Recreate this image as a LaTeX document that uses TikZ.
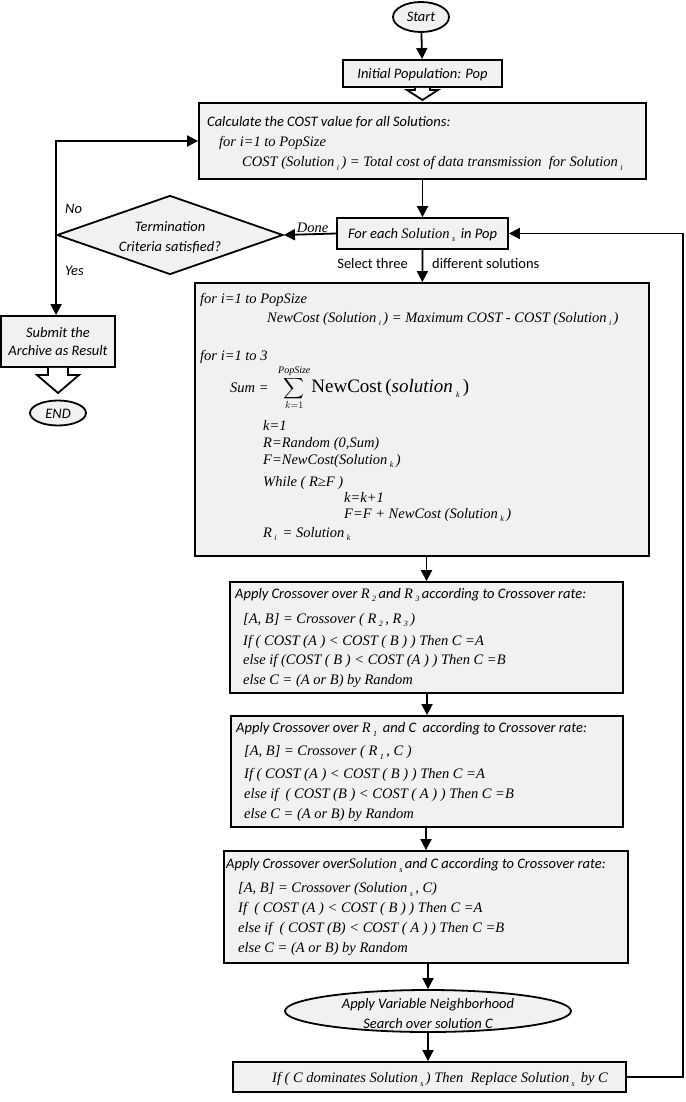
\documentclass[tikz,border=0pt]{standalone}
\usepackage{fontspec}
\setmainfont{Liberation Serif}
\newfontfamily\cfont{Carlito}
\usetikzlibrary{arrows.meta,shapes.geometric}
\definecolor{boxfill}{HTML}{F1F1F1}
\newcommand\myss[1]{\,\raisebox{-0.6ex}{\fontsize{8}{8}\selectfont\itshape #1}\,}
\newcommand\bigsig{\mathop{\vcenter{\hbox{\scalebox{1.45}{$\displaystyle\sum$}}}}\limits}
\tikzset{
  box/.style={draw, line width=1.8pt, fill=boxfill, inner sep=0pt, rectangle},
  oval/.style={draw, line width=1.8pt, fill=boxfill, inner sep=0pt, ellipse},
  sv/.style={font=\fontsize{14.5}{20}\selectfont\itshape, inner sep=0pt, anchor=base west},
  sn/.style={font=\cfont\fontsize{14.5}{20}\selectfont\itshape, inner sep=0pt, anchor=base west},
  snc/.style={font=\cfont\fontsize{14.5}{20}\selectfont\itshape, inner sep=0pt, anchor=base},
  arr/.style={line width=1.8pt, -{Triangle[length=11pt,width=11pt]}},
  hollow/.style={draw, line width=1.8pt, fill=white, line join=miter},
}
\begin{document}
\begin{tikzpicture}[x=1pt,y=-1pt]
\useasboundingbox (0,0) rectangle (685,1102);
% shapes
\node[oval, minimum width=56pt, minimum height=30pt] (start) at (421,17) {};
\node[snc] at (421,22) {Start};
\node[box, minimum width=159pt, minimum height=27pt] (init) at (422.5,73.5) {};
\node[snc] at (422.5,79) {Initial Population: Pop};
\node[box, minimum width=447pt, minimum height=76pt] (calc) at (422.5,141) {};
\node[box, minimum width=171pt, minimum height=31pt] (foreach) at (422.5,233.5) {};
\node[draw, line width=1.8pt, fill=boxfill, diamond, inner sep=0pt, minimum width=226pt, minimum height=79pt] (dia) at (170,235) {};
\node[snc] at (170,231) {Termination};
\node[snc] at (170,251) {Criteria satisfied?};
\node[box, minimum width=114pt, minimum height=51pt] (submit) at (58,341.5) {};
\node[snc] at (58,337) {Submit the};
\node[snc] at (58,355) {Archive as Result};
\node[oval, minimum width=56pt, minimum height=25pt] (end) at (58,413) {};
\node[snc] at (58,418) {END};
\node[box, minimum width=454pt, minimum height=273pt] (big) at (422,419.5) {};
\node[box, minimum width=393pt, minimum height=111pt] (box1) at (426.5,637.5) {};
\node[box, minimum width=392pt, minimum height=111pt] (box2) at (427,771.5) {};
\node[box, minimum width=404pt, minimum height=112pt] (box3) at (426,907) {};
\node[oval, minimum width=286pt, minimum height=42pt] (vns) at (428,1011) {};
\node[snc] at (428,1008) {Apply Variable Neighborhood};
\node[snc] at (428,1028) {Search over solution C};
\node[box, minimum width=393pt, minimum height=30pt] (last) at (429.5,1077) {};
\node[sv, anchor=base] at (440,1082) {If ( C dominates Solution\myss{s}) Then~ Replace Solution\myss{s} by C};

% calc box text
\node[sn] at (207,127) {Calculate the COST value for all Solutions:};
\node[sv] at (219,147) {for i=1 to PopSize};
\node[sv] at (242,167) {COST (Solution\myss{i}) = Total cost of data transmission~ for Solution\myss{i}};

% for each text
\node[snc] at (422.5,238) {For each {\normalfont\rmfamily\itshape Solution\myss{s}} in Pop};

% big box text
\node[sv] at (200,303) {for i=1 to PopSize};
\node[sv] at (267,322) {NewCost (Solution\myss{i}) = Maximum COST - COST (Solution\myss{i})};
\node[sv] at (200,360) {for i=1 to 3};
\node[sv] at (230,392) {Sum =};
\node[inner sep=0pt, anchor=base west, font=\fontsize{14.4}{20}\selectfont] at (278,392) {$\displaystyle\bigsig_{k=1}^{\mathit{PopSize}}$\hspace{1pt}{\fontsize{19}{20}\selectfont NewCost\,(\textit{solution}\myss{k})}};
\node[sv] at (263,430) {k=1};
\node[sv] at (263,447) {R=Random (0,Sum)};
\node[sv] at (263,464) {F=NewCost(Solution\myss{k})};
\node[sv] at (263,486) {While ( R≥F )};
\node[sv] at (344,502) {k=k+1};
\node[sv] at (344,518) {F=F + NewCost (Solution\myss{k})};
\node[sv] at (263,537) {R\myss{i} = Solution\myss{k}};

% box1
\node[sn] at (235,598) {Apply Crossover over {\rmfamily R\myss{2}}and {\rmfamily R\myss{3}}according to Crossover rate:};
\node[sv] at (243,623) {[A, B] = Crossover ( R\myss{2}, R\myss{3})};
\node[sv] at (243,645) {If ( COST (A ) < COST ( B ) ) Then C =A};
\node[sv] at (243,664) {else if (COST ( B ) < COST (A ) ) Then C =B};
\node[sv] at (243,684) {else C = (A or B) by Random};
% box2
\node[sn] at (236,732) {Apply Crossover over {\rmfamily R\myss{1}} and C~ according to Crossover rate:};
\node[sv] at (244,755) {[A, B] = Crossover ( R\myss{1}, C )};
\node[sv] at (244,778) {If ( COST (A ) < COST ( B ) ) Then C =A};
\node[sv] at (244,798) {else if~ ( COST (B ) < COST ( A ) ) Then C =B};
\node[sv] at (244,818) {else C = (A or B) by Random};
% box3
\node[sn] at (226,868) {Apply Crossover over{\rmfamily Solution\myss{s}}and C according to Crossover rate:};
\node[sv] at (238,892) {[A, B] = Crossover (Solution\myss{s}, C)};
\node[sv] at (238,912) {If~ ( COST (A ) < COST ( B ) ) Then C =A};
\node[sv] at (238,932) {else if~ ( COST (B) < COST ( A ) ) Then C =B};
\node[sv] at (238,952) {else C = (A or B) by Random};

% connectors
\draw[arr] (start) -- (init);
\draw[hollow] (init.south -| 415,0) -- (415,90) -- (407,90) -- (422.5,100) -- (438,90) -- (430,90) -- (init.south -| 430,0);
\draw[arr] (calc) -- (foreach);
\draw[arr] (foreach.west) -- (dia.east) node[pos=0.45, above=2pt, sv, anchor=base] {Done};
\draw[arr] (dia.west) |- (calc.west);
\node[sn] at (65,213) {No};
\draw[arr] (dia.west) -- (dia.west |- submit.north);
\node[sn] at (65,275) {Yes};
\draw[hollow] (submit.south -| 48,0) -- (48,375) -- (37,375) -- (58,393) -- (79,375) -- (68,375) -- (submit.south -| 68,0);
\draw[arr] (foreach) -- (big);
\node[font=\cfont\fontsize{14.5}{20}\selectfont, inner sep=0pt, anchor=base east] at (408,268) {Select three};
\node[font=\cfont\fontsize{14.5}{20}\selectfont, inner sep=0pt, anchor=base west] at (432,268) {different solutions};
\draw[arr] (box1.north |- big.south) -- (box1.north);
\draw[arr] (box2.north |- box1.south) -- (box2.north);
\draw[arr] (box3.north |- box2.south) -- (box3.north);
\draw[arr] (vns.north |- box3.south) -- (vns.north);
\draw[arr] (vns.south) -- (vns.south |- last.north);
\coordinate (cr) at (683,1077);
\coordinate (cu) at (683,233.5);
\draw[arr] (last.east) -- (cr) -- (cu) -- (foreach.east);
\end{tikzpicture}
\end{document}
